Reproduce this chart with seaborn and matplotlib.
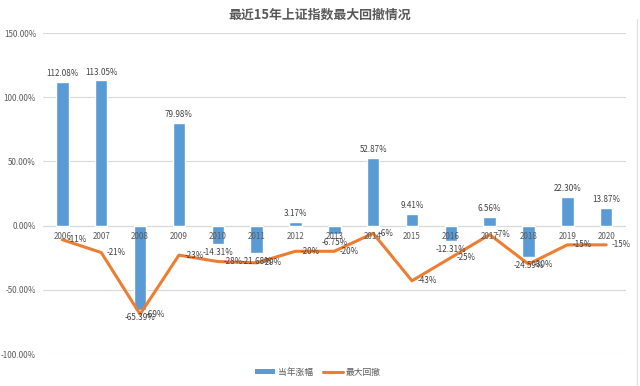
import matplotlib
matplotlib.use("Agg")
import matplotlib.pyplot as plt
import seaborn as sns
import numpy as np
import pandas as pd
from matplotlib.lines import Line2D
from matplotlib.patches import Patch
from matplotlib.ticker import FuncFormatter

years = ["2006", "2007", "2008", "2009", "2010", "2011", "2012", "2013",
         "2014", "2015", "2016", "2017", "2018", "2019", "2020"]
annual_change = [112.08, 113.05, -65.39, 79.98, -14.31, -21.68, 3.17, -6.75,
                 52.87, 9.41, -12.31, 6.56, -24.59, 22.30, 13.87]
max_drawdown = [-11, -21, -69, -23, -28, -29, -20, -20, -6, -43, -25, -7, -30, -15, -15]
title = "最近15年上证指数最大回撤情况"
bar_name = "当年涨幅"
line_name = "最大回撤"

sns.set_theme(style="white")
plt.rcParams['font.family'] = ['Noto Sans CJK SC', 'DejaVu Sans']

bar_color = "#5B9BD5"
line_color = "#ED7D31"
text_color = "#595959"
fs = 5.8

df = pd.DataFrame({"year": years, "change": annual_change, "dd": max_drawdown})

fig = plt.figure(figsize=(6.4, 3.86), dpi=100)
ax = fig.add_axes([0.0672, 0.0829, 0.9103, 0.8316])

sns.barplot(data=df, x="year", y="change", color=bar_color, width=0.32,
            saturation=1, ax=ax, zorder=2)
pos = np.arange(len(years))
sns.lineplot(x=pos, y=df["dd"], color=line_color, linewidth=2.2, ax=ax, zorder=3)

ax.set_ylim(-100, 150)
ax.set_xlim(-0.5, len(years) - 0.5)
ax.set_yticks([-100, -50, 0, 50, 100, 150])
ax.yaxis.set_major_formatter(FuncFormatter(lambda v, p: f"{v:.2f}%"))
ax.tick_params(axis='y', labelsize=fs, colors=text_color, length=0, pad=5)
ax.set_xticks([])
ax.set_xlabel("")
ax.set_ylabel("")
ax.grid(axis='y', color="#D9D9D9", linewidth=0.8, zorder=0)
ax.axhline(0, color="#D9D9D9", linewidth=0.8, zorder=1)
for s in ax.spines.values():
    s.set_visible(False)

# category labels near zero line
for i, y in enumerate(years):
    ax.annotate(y, (i, 0), xytext=(0, -8), textcoords="offset points",
                ha="center", va="center", fontsize=fs, color=text_color, zorder=4)

# bar value labels
for i, v in enumerate(annual_change):
    off = 6 if v >= 0 else -6
    ax.annotate(f"{v:.2f}%", (i, v), xytext=(0, off), textcoords="offset points",
                ha="center", va="center", fontsize=fs, color="#404040", zorder=5)

# line value labels (right of point)
for i, v in enumerate(max_drawdown):
    ax.annotate(f"{v}%", (i, v), xytext=(4, 0), textcoords="offset points",
                ha="left", va="center", fontsize=fs, color="#404040", zorder=5)

fig.suptitle(title, x=0.5, y=0.961, va="center", fontsize=9.3,
             fontweight="bold", color=text_color)

handles = [Patch(facecolor=bar_color, edgecolor="none"),
           Line2D([0], [0], color=line_color, linewidth=2.2)]
fig.legend(handles, [bar_name, line_name], loc="center", bbox_to_anchor=(0.497, 0.035),
           ncol=2, frameon=False, fontsize=6.3, labelcolor=text_color,
           handlelength=2.3, handleheight=0.5, handletextpad=0.3, columnspacing=1.2)

fig.add_artist(Line2D([0.995, 0.995], [0.0, 0.95], transform=fig.transFigure,
                      color="#E0E0E0", linewidth=0.8))

fig.savefig("out.png", dpi=100)
